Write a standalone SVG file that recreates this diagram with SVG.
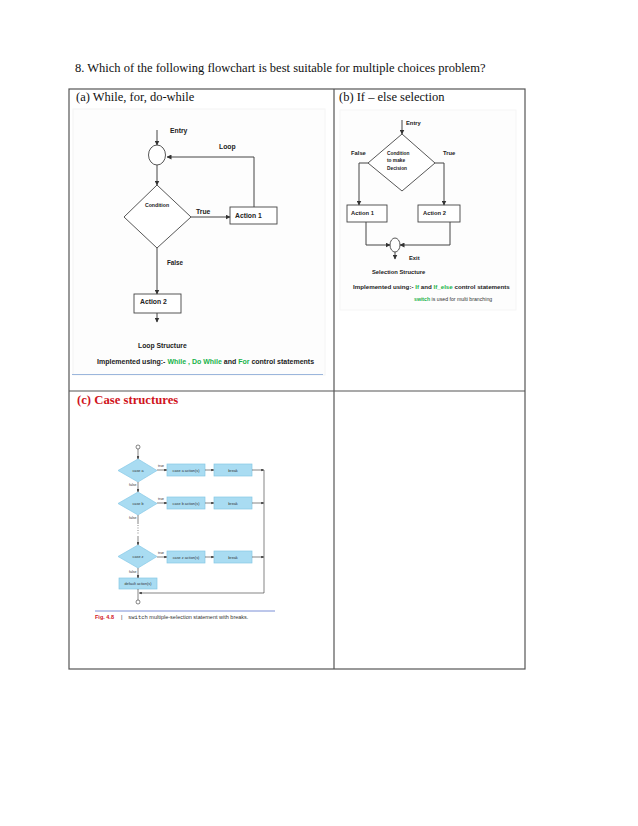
<svg xmlns="http://www.w3.org/2000/svg" width="638" height="826" viewBox="0 0 638 826">
<defs>
<style>
.serif{font-family:"Liberation Serif","Times New Roman",serif;fill:#111}
.sb{font-family:"Liberation Sans",Arial,sans-serif;font-weight:bold;fill:#222}
.s{font-family:"Liberation Sans",Arial,sans-serif;fill:#333}
.ln{stroke:#444;stroke-width:1;fill:none}
.bx{stroke:#444;stroke-width:0.9;fill:#fff}
.grid{stroke:#555;stroke-width:1.2;fill:none}
.cb{fill:#a9dcf2;stroke:#86c8e6;stroke-width:0.7}
.cl{stroke:#333;stroke-width:0.6;fill:none}
.g{fill:#19b34a}
</style>
<marker id="ah" viewBox="0 0 10 10" refX="9" refY="5" markerWidth="5" markerHeight="5" orient="auto"><path d="M0,0L10,5L0,10z" fill="#333"/></marker>
<marker id="ahs" viewBox="0 0 10 10" refX="9" refY="5" markerWidth="5" markerHeight="5" orient="auto"><path d="M0,1L10,5L0,9z" fill="#222"/></marker>
</defs>
<rect width="638" height="826" fill="#fff"/>

<text class="serif" x="75" y="72" font-size="12.5">8. Which of the following flowchart is best suitable for multiple choices problem?</text>

<g id="table">
<rect class="grid" x="69" y="89" width="456" height="580"/>
<line class="grid" x1="334" y1="89" x2="334" y2="669"/>
<line class="grid" x1="69" y1="391" x2="525" y2="391"/>
</g>
<text class="serif" x="76" y="101" font-size="12.5">(a) While, for, do-while</text>
<text class="serif" x="339" y="101" font-size="12.5">(b) If – else selection</text>

<!-- (a) loop structure -->
<g id="panel-a">
<rect x="73" y="109" width="252" height="266" fill="#fdfdfd" stroke="#f4f4f4" stroke-width="1"/>
<line x1="72" y1="374.5" x2="323" y2="374.5" stroke="#9bb6dc" stroke-width="1"/>
</g>
<g id="a-circle"><ellipse class="bx" cx="157" cy="155" rx="8.5" ry="10"/></g>
<g id="a-condition"><polygon class="bx" points="157,185 191,217 157,248 124,217"/><text class="sb" x="157" y="207" font-size="5.2" text-anchor="middle">Condition</text></g>
<g id="a-action1"><rect class="bx" x="230" y="207" width="47" height="17"/><text class="sb" x="235" y="218" font-size="6.8">Action 1</text></g>
<g id="a-action2"><rect class="bx" x="134" y="294" width="47" height="19"/><text class="sb" x="140" y="304" font-size="6.8">Action 2</text></g>
<g id="a-connectors">
<line class="ln" x1="157" y1="130" x2="157" y2="145" marker-end="url(#ah)"/>
<line class="ln" x1="157" y1="165" x2="157" y2="185" marker-end="url(#ah)"/>
<line class="ln" x1="191" y1="217" x2="230" y2="217" marker-end="url(#ah)"/>
<polyline class="ln" points="254,207 254,157 167,157" marker-end="url(#ah)"/>
<line class="ln" x1="157" y1="248" x2="157" y2="294" marker-end="url(#ah)"/>
<line class="ln" x1="157" y1="313" x2="157" y2="322" marker-end="url(#ah)"/>
</g>
<g id="a-labels">
<text class="sb" x="170" y="133" font-size="6.8">Entry</text>
<text class="sb" x="219" y="149" font-size="6.8">Loop</text>
<text class="sb" x="196" y="214" font-size="6.8">True</text>
<text class="sb" x="167" y="265" font-size="6.3">False</text>
<text class="sb" x="138" y="348" font-size="6.8">Loop Structure</text>
<text class="sb" x="97" y="364" font-size="7">Implemented using:- <tspan class="g">While , Do While</tspan> and <tspan class="g">For</tspan> control statements</text>
</g>

<!-- (b) selection structure -->
<g id="panel-b"><rect x="340" y="110" width="176" height="200" fill="#fdfdfd" stroke="#f5f5f5" stroke-width="1"/></g>
<g id="b-decision"><polygon class="bx" points="402,134 435,163 402,191 368,163"/>
<text class="sb" x="387" y="155" font-size="4.8">Condition</text>
<text class="sb" x="387" y="162" font-size="4.8">to make</text>
<text class="sb" x="387" y="170" font-size="4.8">Decision</text></g>
<g id="b-action1"><rect class="bx" x="347" y="205" width="40" height="17"/><text class="sb" x="351" y="215" font-size="5.8">Action 1</text></g>
<g id="b-action2"><rect class="bx" x="418" y="205" width="42" height="17"/><text class="sb" x="423" y="215" font-size="5.8">Action 2</text></g>
<g id="b-exit"><ellipse class="bx" cx="395" cy="245" rx="5" ry="7"/></g>
<g id="b-connectors">
<line class="ln" x1="402" y1="120" x2="402" y2="134" marker-end="url(#ah)"/>
<polyline class="ln" points="368,163 359,163 359,205" marker-end="url(#ah)"/>
<polyline class="ln" points="435,163 444,163 444,205" marker-end="url(#ah)"/>
<polyline class="ln" points="366,222 366,245 390,245" marker-end="url(#ah)"/>
<polyline class="ln" points="450,222 450,245 400,245" marker-end="url(#ah)"/>
<line class="ln" x1="395" y1="252" x2="395" y2="259" marker-end="url(#ah)"/>
</g>
<g id="b-labels">
<text class="sb" x="406" y="125" font-size="5.8">Entry</text>
<text class="sb" x="351" y="155" font-size="5.8">False</text>
<text class="sb" x="443" y="155" font-size="5.8">True</text>
<text class="sb" x="409" y="260" font-size="5.8">Exit</text>
<text class="sb" x="372" y="274" font-size="5.8">Selection Structure</text>
<text class="sb" x="353" y="289" font-size="6.2">Implemented using:- <tspan class="g">If</tspan> and <tspan class="g">If_else</tspan> control statements</text>
<text class="s" x="414" y="301" font-size="5.2"><tspan class="g" font-weight="bold">switch</tspan> is used for multi branching</text>
</g>

<!-- (c) case structures -->
<text x="77" y="404" font-family="'Liberation Serif','Times New Roman',serif" font-weight="bold" font-size="12.7" fill="#d0141c">(c) Case structures</text>
<g id="c-start"><circle cx="138" cy="447" r="2" fill="#fff" stroke="#333" stroke-width="0.6"/></g>
<g id="c-case-a"><polygon class="cb" points="138,459 157,470.5 138,482 118,470.5"/><text class="s" x="138" y="472" font-size="3.8" text-anchor="middle">case a</text></g>
<g id="c-act-a"><rect class="cb" x="167" y="464" width="38" height="12"/><text class="s" x="186" y="471.5" font-size="3.8" text-anchor="middle">case a action(s)</text></g>
<g id="c-brk-a"><rect class="cb" x="214" y="464" width="38" height="12"/><text class="s" x="233" y="471.5" font-size="3.8" text-anchor="middle">break</text></g>
<g id="c-case-b"><polygon class="cb" points="138,492 157,503.5 138,515 118,503.5"/><text class="s" x="138" y="505" font-size="3.8" text-anchor="middle">case b</text></g>
<g id="c-act-b"><rect class="cb" x="167" y="497" width="38" height="12"/><text class="s" x="186" y="504.5" font-size="3.8" text-anchor="middle">case b action(s)</text></g>
<g id="c-brk-b"><rect class="cb" x="214" y="497" width="38" height="12"/><text class="s" x="233" y="504.5" font-size="3.8" text-anchor="middle">break</text></g>
<g id="c-case-z"><polygon class="cb" points="138,545 157,556.5 138,568 118,556.5"/><text class="s" x="138" y="558" font-size="3.8" text-anchor="middle">case z</text></g>
<g id="c-act-z"><rect class="cb" x="167" y="551" width="38" height="12"/><text class="s" x="186" y="558.5" font-size="3.8" text-anchor="middle">case z action(s)</text></g>
<g id="c-brk-z"><rect class="cb" x="214" y="551" width="38" height="12"/><text class="s" x="233" y="558.5" font-size="3.8" text-anchor="middle">break</text></g>
<g id="c-default"><rect class="cb" x="119" y="578" width="38" height="11"/><text class="s" x="138" y="585" font-size="3.8" text-anchor="middle">default action(s)</text></g>
<g id="c-end"><circle cx="138" cy="602" r="2" fill="#fff" stroke="#333" stroke-width="0.6"/></g>
<g id="c-connectors">
<line class="cl" x1="138" y1="449" x2="138" y2="459" marker-end="url(#ahs)"/>
<line class="cl" x1="157" y1="470" x2="167" y2="470" marker-end="url(#ahs)"/>
<line class="cl" x1="205" y1="470" x2="214" y2="470" marker-end="url(#ahs)"/>
<line class="cl" x1="252" y1="470" x2="264" y2="470" marker-end="url(#ahs)"/>
<line class="cl" x1="138" y1="482" x2="138" y2="492" marker-end="url(#ahs)"/>
<line class="cl" x1="157" y1="503" x2="167" y2="503" marker-end="url(#ahs)"/>
<line class="cl" x1="205" y1="503" x2="214" y2="503" marker-end="url(#ahs)"/>
<line class="cl" x1="252" y1="503" x2="264" y2="503" marker-end="url(#ahs)"/>
<line class="cl" x1="138" y1="515" x2="138" y2="524"/>
<line class="cl" x1="138" y1="525" x2="138" y2="535" stroke-dasharray="1,1.5"/>
<line class="cl" x1="138" y1="536" x2="138" y2="545" marker-end="url(#ahs)"/>
<line class="cl" x1="157" y1="557" x2="167" y2="557" marker-end="url(#ahs)"/>
<line class="cl" x1="205" y1="557" x2="214" y2="557" marker-end="url(#ahs)"/>
<line class="cl" x1="252" y1="557" x2="264" y2="557" marker-end="url(#ahs)"/>
<line class="cl" x1="138" y1="568" x2="138" y2="578" marker-end="url(#ahs)"/>
<polyline class="cl" points="264,470 264,593 139,593" marker-end="url(#ahs)"/>
<line class="cl" x1="138" y1="589" x2="138" y2="600"/>
</g>
<g id="c-labels">
<text class="s" x="158" y="467" font-size="3.5">true</text>
<text class="s" x="158" y="500" font-size="3.5">true</text>
<text class="s" x="158" y="554" font-size="3.5">true</text>
<text class="s" x="129" y="486" font-size="3.5">false</text>
<text class="s" x="129" y="519" font-size="3.5">false</text>
<text class="s" x="129" y="573" font-size="3.5">false</text>
</g>
<g id="c-caption">
<line x1="95" y1="611" x2="275" y2="611" stroke="#7b8fd6" stroke-width="1"/>
<text x="95" y="619" font-family="'Liberation Sans',Arial,sans-serif" font-weight="bold" font-size="5.5" fill="#d0141c">Fig. 4.8</text>
<text class="s" x="121" y="619" font-size="5.5">|</text>
<text class="s" x="128" y="619" font-size="5.5"><tspan font-family="'Liberation Mono',monospace">switch</tspan> multiple-selection statement with breaks.</text>
</g>
</svg>
